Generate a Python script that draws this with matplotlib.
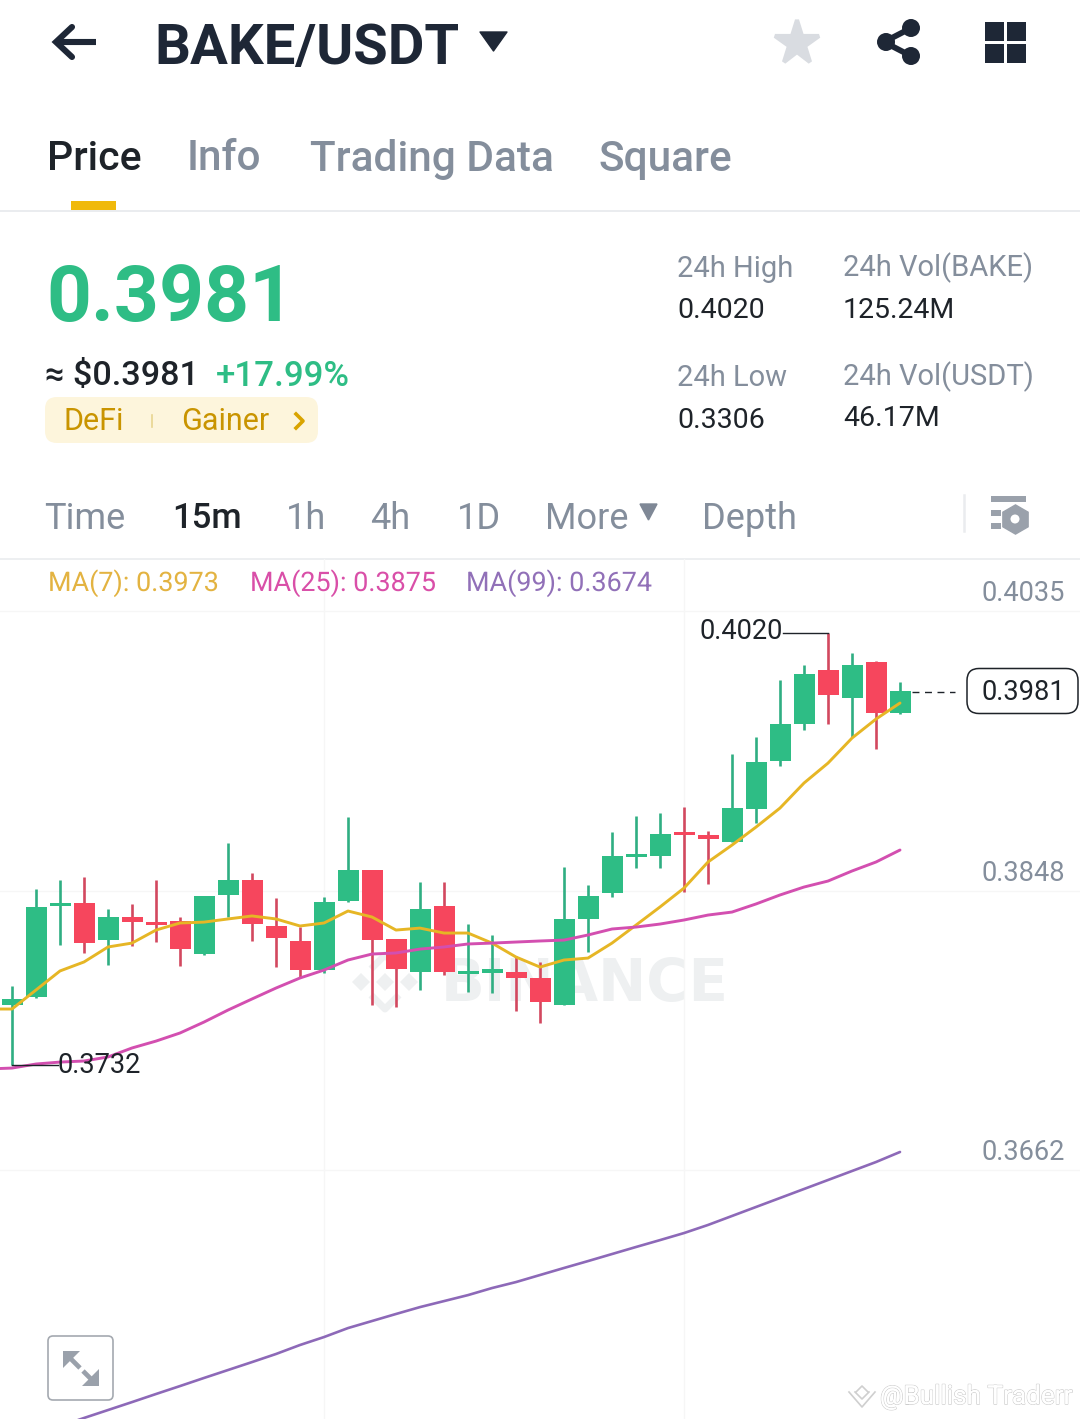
import numpy as np
import matplotlib
matplotlib.use("Agg")
import matplotlib.pyplot as plt
from matplotlib.patches import FancyBboxPatch, Polygon, Circle, Rectangle
import matplotlib.patheffects as pe

plt.rcParams['font.family'] = ['Roboto', 'DejaVu Sans']

# candle data
opens = [0.37721, 0.37774, 0.38381, 0.38401, 0.38154, 0.38308, 0.38274, 0.38281, 0.38061, 0.38455,
         0.38555, 0.38248, 0.38148, 0.37954, 0.38415, 0.38621, 0.38161, 0.37941, 0.38381, 0.37927,
         0.37934, 0.37941, 0.37901, 0.37721, 0.38295, 0.38468, 0.38708, 0.38715, 0.38875, 0.38855,
         0.38808, 0.39029, 0.39349, 0.39596, 0.39956, 0.39769, 0.40009, 0.39669]
closes = [0.37761, 0.38375, 0.38401, 0.38134, 0.38308, 0.38274, 0.38254, 0.38094, 0.38448, 0.38555,
          0.38261, 0.38168, 0.37954, 0.38408, 0.38621, 0.38154, 0.37961, 0.38361, 0.37941, 0.37948,
          0.37961, 0.37901, 0.37741, 0.38295, 0.38448, 0.38715, 0.38728, 0.38862, 0.38855, 0.38828,
          0.39035, 0.39342, 0.39596, 0.39929, 0.39789, 0.39989, 0.39669, 0.39816]
highs = [0.37848, 0.38495, 0.38555, 0.38575, 0.38361, 0.38395, 0.38555, 0.38308, 0.38448, 0.38802,
         0.38601, 0.38435, 0.38241, 0.38441, 0.38975, 0.38621, 0.38161, 0.38541, 0.38541, 0.38261,
         0.38188, 0.38048, 0.38008, 0.38642, 0.38521, 0.38875, 0.38982, 0.39002, 0.39042, 0.38882,
         0.39396, 0.39509, 0.39889, 0.39989, 0.40200, 0.40070, 0.40016, 0.39876]
lows = [0.37320, 0.37767, 0.38121, 0.38068, 0.37988, 0.38114, 0.38141, 0.37981, 0.38054, 0.38308,
        0.38148, 0.37974, 0.37907, 0.37934, 0.38408, 0.37721, 0.37707, 0.37821, 0.37921, 0.37807,
        0.37801, 0.37681, 0.37601, 0.37721, 0.38074, 0.38441, 0.38635, 0.38635, 0.38475, 0.38528,
        0.38808, 0.38935, 0.39315, 0.39556, 0.39596, 0.39509, 0.39429, 0.39662]

# moving averages, first value sits one candle left of the screen
ma7 = [0.37694, 0.37694, 0.37821, 0.37948, 0.38008, 0.38108, 0.38134, 0.38221, 0.38268, 0.38274,
       0.38295, 0.38315, 0.38295, 0.38248, 0.38268, 0.38348, 0.38308, 0.38221, 0.38234, 0.38201,
       0.38201, 0.38134, 0.38041, 0.37974, 0.38021, 0.38034, 0.38134, 0.38254, 0.38375, 0.38501,
       0.38675, 0.38788, 0.38908, 0.39035, 0.39202, 0.39335, 0.39502, 0.39629, 0.39736]
ma25 = [0.37294, 0.37300, 0.37327, 0.37340, 0.37347, 0.37374, 0.37434, 0.37480, 0.37534, 0.37607,
        0.37687, 0.37761, 0.37834, 0.37901, 0.37954, 0.38021, 0.38061, 0.38068, 0.38094, 0.38108,
        0.38128, 0.38134, 0.38141, 0.38148, 0.38154, 0.38188, 0.38228, 0.38241, 0.38261, 0.38288,
        0.38321, 0.38341, 0.38395, 0.38455, 0.38508, 0.38548, 0.38615, 0.38675, 0.38755]
# starts at candle 2, before that it is below the screen
ma99 = [0.34911, 0.34965, 0.35018, 0.35071, 0.35125, 0.35178, 0.35232, 0.35285, 0.35338, 0.35392,
        0.35452, 0.35505, 0.35565, 0.35612, 0.35659, 0.35705, 0.35745, 0.35785, 0.35832, 0.35872,
        0.35919, 0.35966, 0.36012, 0.36059, 0.36106, 0.36152, 0.36199, 0.36253, 0.36313, 0.36373,
        0.36433, 0.36493, 0.36553, 0.36613, 0.36673, 0.36740]

price_ticks = [0.4035, 0.3848, 0.3662]
price_tick_labels = ['0.4035', '0.3848', '0.3662']
time_grid = [13, 28]
last_price = 0.3981
high_price = 0.4020
low_price = 0.3732
high_idx = 34
low_idx = 0

tabs = ['Price', 'Info', 'Trading Data', 'Square']
tab_x = [47, 187, 310, 598]
periods = ['Time', '15m', '1h', '4h', '1D', 'More', 'Depth']
period_x = [44, 172, 286, 370, 457, 545, 702]

DARK = '#1E2329'
NAVY = '#1E2736'
GRAY = '#848E9C'
GREEN = '#2EBD85'
RED = '#F6465D'
LINE = '#EAECEF'
ICON = '#9AA1AB'
WM = '#EEF0F1'

fig = plt.figure(figsize=(10.8, 14.19), dpi=100, facecolor='white')

# page axes in pixels for the app chrome
ui = fig.add_axes([0, 0, 1, 1], zorder=1)
ui.set_xlim(0, 1080)
ui.set_ylim(1419, 0)
ui.axis('off')

# chart axes, x is candle number, y is price
chart_top = 559
ax = fig.add_axes([0, 0, 1, (1419 - chart_top) / 1419], zorder=2)
ax.patch.set_alpha(0)
ax.set_xlim(-0.5, 44.5)
ax.set_ylim(0.349582, 0.406970)
for s in ax.spines.values():
    s.set_visible(False)
ax.set_yticks(price_ticks)
ax.set_xticks(time_grid)
ax.tick_params(length=0, labelleft=False, labelbottom=False)
ax.grid(True, color='#F6F6F6', lw=1.0)
ax.set_axisbelow(True)

# watermark behind the candles
ax.text(17.85, 0.37860, 'BINANCE', fontsize=41.5, fontweight='bold', family='DejaVu Sans', color=WM,
        va='center', ha='left', zorder=0.5)
for cx in [361, 385, 409]:
    ui.add_patch(Polygon([[cx, 973], [cx + 9, 982], [cx, 991], [cx - 9, 982]], closed=True, fc=WM, ec='none'))
ui.plot([371, 385, 399], [969, 955, 969], color=WM, lw=5, solid_capstyle='butt')
ui.plot([371, 385, 399], [995, 1009, 995], color=WM, lw=5, solid_capstyle='butt')

idx = np.arange(len(opens))
opens = np.array(opens)
closes = np.array(closes)
colors = [GREEN if c >= o else RED for o, c in zip(opens, closes)]
wick_colors = ['#2FAE82' if c >= o else '#D2485F' for o, c in zip(opens, closes)]
ax.vlines(idx, lows, highs, colors=wick_colors, lw=1.9, zorder=2)
ax.bar(idx, np.abs(closes - opens), bottom=np.minimum(opens, closes), width=0.875, color=colors, zorder=3)

ax.plot(np.arange(-1, 38), ma7, color='#E6B625', lw=2.1, zorder=4, solid_capstyle='round')
ax.plot(np.arange(-1, 38), ma25, color='#D34FB0', lw=2.1, zorder=4, solid_capstyle='round')
ax.plot(np.arange(2, 38), ma99, color='#8D69B8', lw=1.9, zorder=4, solid_capstyle='round')

# right side price labels
for p, lab in zip(price_ticks, price_tick_labels):
    ax.text(43.88, p + 0.00026, lab, fontsize=19.6, color=GRAY, ha='right', va='bottom', zorder=5)

# high / low markers
ax.plot([high_idx - 1.88, high_idx], [high_price, high_price], color=DARK, lw=1, zorder=5)
ax.text(high_idx - 1.88, high_price + 0.00012, '0.4020', fontsize=19.6, color=DARK, ha='right', va='center', zorder=5)
ax.plot([low_idx, low_idx + 1.9], [low_price, low_price], color=DARK, lw=1, zorder=5)
ax.text(low_idx + 1.9, low_price, '0.3732', fontsize=19.6, color=DARK, ha='left', va='center', zorder=5)

# last price dashes and box
ax.plot([37.5, 39.3], [last_price, last_price], color=DARK, lw=1, ls=(0, (5, 4)), zorder=5)
ui.add_patch(FancyBboxPatch((977, 678.5), 91, 25, boxstyle='round,pad=10,rounding_size=12', fc='white', ec=DARK, lw=1.1))
ax.text(42.12, last_price - 0.00007, '0.3981', fontsize=19.6, color=DARK, ha='center', va='center', zorder=5)

# top bar
ui.plot([56, 96], [42, 42], color=NAVY, lw=4.4, solid_capstyle='butt')
ui.plot([72, 56, 72], [27, 42, 57], color=NAVY, lw=4.4, solid_capstyle='round', solid_joinstyle='miter')
ui.text(154, 49, 'BAKE/USDT', fontsize=40.5, fontweight='bold', color=NAVY, va='center', ha='left')
ui.add_patch(Polygon([[480, 32], [507, 32], [493.5, 51]], closed=True, fc=NAVY, ec=NAVY, lw=1, joinstyle='round'))
ui.plot([797], [43], marker='*', ms=33, color='#D9DCE1', mec='#D9DCE1', mew=3, mfc='#D9DCE1')
ui.plot([913, 884, 913], [27, 42, 57], color=NAVY, lw=4.2)
for cx, cy, r in [(911, 28, 9), (886, 42, 9), (911, 56, 9)]:
    ui.add_patch(Circle((cx, cy), r, fc=NAVY, ec='none'))
for x0, y0 in [(985, 22), (1007, 22), (985, 44), (1007, 44)]:
    ui.add_patch(Rectangle((x0, y0), 18.5, 18.5, fc=NAVY, ec='none'))

# tabs
for i, (t, x) in enumerate(zip(tabs, tab_x)):
    if i == 0:
        ui.text(x, 159, t, fontsize=29.5, fontweight='medium', color=DARK, va='center', ha='left')
    else:
        ui.text(x, 159, t, fontsize=30.5, fontweight='medium', color=GRAY, va='center', ha='left')
ui.add_patch(Rectangle((71, 201), 45, 9, fc='#F0B90B', ec='none'))
ui.plot([0, 1080], [211, 211], color=LINE, lw=1.4)

# price block
ui.text(46, 300, '0.3981', fontsize=56.5, fontweight='bold', color=GREEN, va='center', ha='left')
ui.text(45, 376, '≈ $0.3981', fontsize=24.6, fontweight='medium', color=DARK, va='center', ha='left')
ui.text(216, 376, '+17.99%', fontsize=25.1, fontweight='medium', color=GREEN, va='center', ha='left')
ui.add_patch(FancyBboxPatch((53, 405), 257, 30, boxstyle='round,pad=8,rounding_size=12', fc='#FDF5DC', ec='none'))
ui.text(63, 422, 'DeFi', fontsize=22, color='#C99400', va='center', ha='left')
ui.plot([152, 152], [415, 427], color='#E8D590', lw=1.2)
ui.text(181, 422, 'Gainer', fontsize=22, color='#C99400', va='center', ha='left')
ui.plot([296, 303, 296], [414, 421, 428], color='#D9A400', lw=2.6)

# stats
for x, lab, val, y in [(677, '24h High', '0.4020', 269), (843, '24h Vol(BAKE)', '125.24M', 268),
                       (677, '24h Low', '0.3306', 378), (843, '24h Vol(USDT)', '46.17M', 377)]:
    ui.text(x, y, lab, fontsize=21, color=GRAY, va='center', ha='left')
    ui.text(x, y + 42, val, fontsize=20.5, color=DARK, va='center', ha='left')

# period row
for p, x in zip(periods, period_x):
    if p == '15m':
        ui.text(x, 519, p, fontsize=25, fontweight='medium', color=DARK, va='center', ha='left')
    else:
        ui.text(x, 519, p, fontsize=26, color=GRAY, va='center', ha='left')
ui.add_patch(Polygon([[640, 504], [657, 504], [648.5, 520]], closed=True, fc='#7F8896', ec='#7F8896', lw=1))
ui.plot([964, 964], [495, 531], color=LINE, lw=1.8)
ui.add_patch(Rectangle((991, 496), 35, 6, fc=ICON, ec='none'))
ui.add_patch(Rectangle((991, 510), 10, 6, fc=ICON, ec='none'))
ui.add_patch(Rectangle((991, 523), 10, 6, fc=ICON, ec='none'))
ui.plot([1015], [519], marker='h', ms=21, color=ICON, mec=ICON)
ui.add_patch(Circle((1015, 519), 4.5, fc='white', ec='none', zorder=5))
ui.plot([0, 1080], [559, 559], color=LINE, lw=1.2)

# MA legend, on the chart axes so the grid stays under it
for x, lab, col in [(48, 'MA(7): 0.3973', '#E3B341'), (250, 'MA(25): 0.3875', '#D94FA8'), (466, 'MA(99): 0.3674', '#9170B8')]:
    ax.text(x, 583, lab, fontsize=19.4, color=col, va='center', ha='left', transform=ui.transData, zorder=6,
            path_effects=[pe.withStroke(linewidth=2, foreground='white')])

# expand button
ui.add_patch(FancyBboxPatch((53, 1341), 55, 54, boxstyle='round,pad=5,rounding_size=5', fc='white', ec='#A4A9B0', lw=1.2))
ui.add_patch(Polygon([[63, 1351], [80, 1351], [63, 1368]], closed=True, fc=ICON, ec='none'))
ui.add_patch(Polygon([[99, 1386], [82, 1386], [99, 1369]], closed=True, fc=ICON, ec='none'))
ui.plot([70, 80], [1358, 1368], color=ICON, lw=3.4, solid_capstyle='butt')
ui.plot([83, 92], [1371, 1380], color=ICON, lw=3.4, solid_capstyle='butt')

# repost watermark
ui.text(880, 1397, '@Bullish Traderr', fontsize=18.8, color='white', va='center', ha='left',
        path_effects=[pe.withStroke(linewidth=1.0, foreground='#CDCDCD'), pe.Normal()], zorder=6)
ui.plot([849, 862, 875], [1392, 1407, 1392], color='#CFCFCF', lw=1.2)
ui.plot([855, 862, 869], [1392, 1399, 1392], color='#CFCFCF', lw=1.2)
ui.plot([856, 862, 868], [1392, 1386, 1392], color='#CFCFCF', lw=1.2)

fig.savefig('out.png', dpi=100)
